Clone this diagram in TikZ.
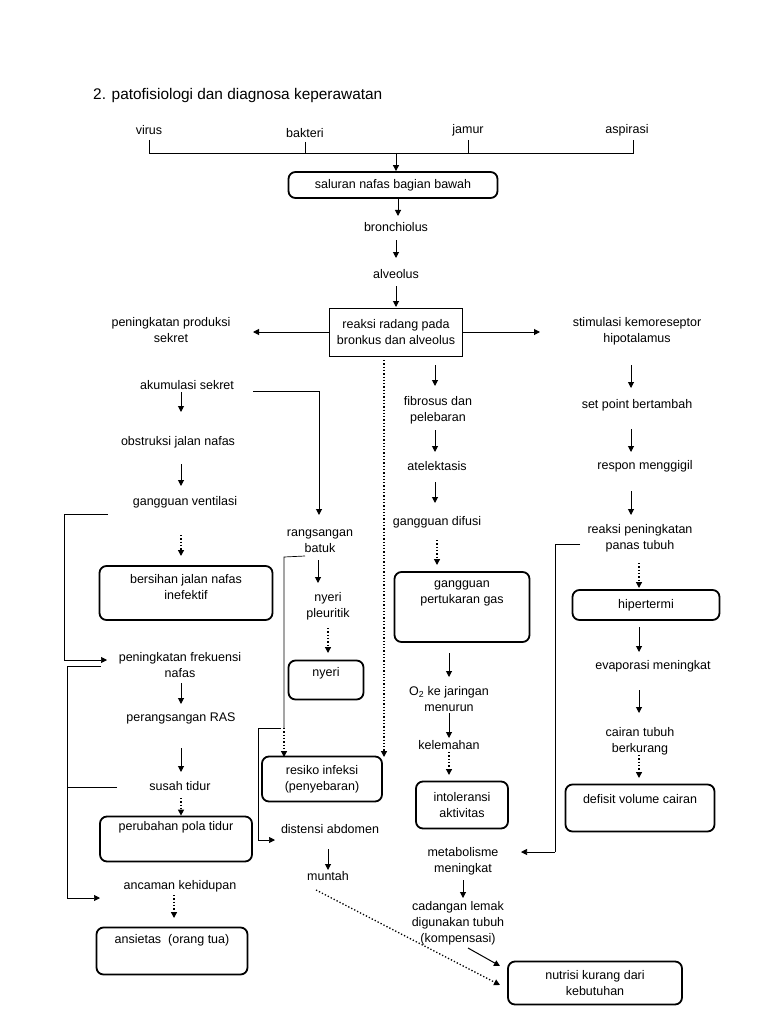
\documentclass[tikz,border=0pt]{standalone}
\usepackage{fontspec}
\setmainfont{Liberation Sans}
\usetikzlibrary{arrows.meta}
\begin{document}
\begin{tikzpicture}[x=1pt,y=-1pt,
  t/.style={font=\fontsize{12.5}{16}\selectfont,align=center,inner sep=1pt},
  bx/.style={draw,line width=1.8pt,rounded corners=7pt},
  a/.style={-{Triangle[length=6pt,width=6pt]},line width=1pt},
  d/.style={a,line width=1.3pt,dotted},
  l/.style={line width=0.7pt}]
\useasboundingbox (0,0) rectangle (768,1024);
\node[anchor=west,font=\fontsize{15.4}{18}\selectfont,inner sep=0pt] (title) at (93,96) {2. patofisiologi dan diagnosa keperawatan};
% top sources
\node[t] (virus) at (149,130) {virus};
\node[t] (bakteri) at (305,133) {bakteri};
\node[t] (jamur) at (468,130) {jamur};
\node[t] (aspirasi) at (627,130) {aspirasi};
\coordinate (j) at (396,153);
\draw[l] (149,140) -- (149,153) -- (633,153) -- (633,140);
\draw[l] (305,142) -- (305,153);
\draw[l] (468,140) -- (468,153);
\node[bx,minimum width=209pt,minimum height=26pt,t] (sal) at (393,185) {saluran nafas bagian bawah};
\draw[a] (j) -- (sal.north -| j);
\node[t] (bron) at (396,227) {bronchiolus};
\draw[a] (398,198) -- (398,216);
\node[t] (alv) at (396,274) {alveolus};
\draw[a] (396,286) -- (396,307);
\draw[a] (396,240) -- (396,258);
\node[draw,line width=0.8pt,minimum width=133pt,minimum height=48pt,t] (rr) at (396,332) {reaksi radang pada\\bronkus dan alveolus};
\node[t] (pps) at (171,330) {peningkatan produksi\\sekret};
\node[t] (stim) at (637,331) {stimulasi kemoreseptor\\hipotalamus};
\draw[a] (rr.west) -- (253,332);
\draw[a] (rr.east) -- (540,332);
% left column
\node[t] (aku) at (187,385) {akumulasi sekret};
\node[t] (obs) at (178,442) {obstruksi jalan nafas};
\node[t] (gv) at (185,502) {gangguan ventilasi};
\node[bx,minimum width=173pt,minimum height=54pt] (bers) at (186,593) {};
\node[t,anchor=north] at (186,573) {bersihan jalan nafas\\inefektif};
\draw[a] (181,392) -- (181,412);
\draw[a] (181,464) -- (181,486);
\draw[d] (181,535) -- (181,556);
\node[t] (pfn) at (180,665) {peningkatan frekuensi\\nafas};
\node[t] (ras) at (181,718) {perangsangan RAS};
\node[t] (st) at (180,786) {susah tidur};
\node[bx,minimum width=152pt,minimum height=45pt] (ppt) at (176,839) {};
\node[t,anchor=north] at (176,820) {perubahan pola tidur};
\node[t] (ak) at (180,886) {ancaman kehidupan};
\node[bx,minimum width=151pt,minimum height=47pt] (ans) at (172,951) {};
\node[t,anchor=north] at (172,933) {ansietas\ \ (orang tua)};
\draw[a] (181,683) -- (181,704);
\draw[a] (181,748) -- (181,772);
\draw[d] (181,798) -- (ppt.north -| 181,0);
\draw[d] (174,895) -- (174,918);
\draw[l] (108,514) -- (64,514) -- (64,660);
\draw[a,line width=0.7pt] (64,660) -- (107,660);
\draw[l] (101,666) -- (67,666);
\draw[l] (117,787) -- (67,787);
\draw[a,line width=0.7pt] (67,666) -- (67,898) -- (100,898);
% batuk column
\node[t] (rb) at (320,541) {rangsangan\\batuk};
\draw[l] (253,391) -- (319,391);
\draw[a] (319,391) -- (319,515);
\node[t] (np) at (328,606) {nyeri\\pleuritik};
\draw[a] (318,560) -- (318,583);
\draw[d] (328,628) -- (328,653);
\node[bx,minimum width=75pt,minimum height=39pt] (ny) at (326,680) {};
\node[t,anchor=north] at (326,666) {nyeri};
\node[bx,minimum width=120pt,minimum height=45pt,t] (ri) at (322,779) {resiko infeksi\\(penyebaran)};
\draw[l] (305,556) -- (284,557) -- (284,728);
\draw[d] (284,728) -- (284,757);
\draw[l] (281,728) -- (258,728);
\node[t] (da) at (330,829) {distensi abdomen};
\draw[a,line width=0.7pt] (258,728) -- (258,840) -- (275,840);
\node[t] (mu) at (328,876) {muntah};
\draw[a] (328,849) -- (328,870);
\draw[d] (384,360) -- (384,757);
% middle-right column
\node[t] (fib) at (438,410) {fibrosus dan\\pelebaran};
\node[t] (ate) at (437,466) {atelektasis};
\node[t] (gd) at (437,522) {gangguan difusi};
\draw[a] (435,365) -- (435,386);
\draw[a] (435,430) -- (435,452);
\draw[a] (435,482) -- (435,503);
\draw[d] (437,540) -- (437,565);
\node[bx,minimum width=135pt,minimum height=70pt] (gpg) at (462,607) {};
\node[t,anchor=north] at (462,580) {gangguan\\pertukaran gas};
\draw[a] (449,653) -- (449,677);
\node[t] (o2) at (449,699) {O\textsubscript{2} ke jaringan\\menurun};
\draw[a] (449,713) -- (449,738);
\node[t] (kel) at (449,745) {kelemahan};
\draw[d] (449,752) -- (449,775);
\node[bx,minimum width=92pt,minimum height=47pt,t] (int) at (462,805) {intoleransi\\aktivitas};
\node[t] (met) at (463,861) {metabolisme\\meningkat};
\draw[a] (463,880) -- (463,898);
\node[t] (cad) at (458,923) {cadangan lemak\\digunakan tubuh\\(kompensasi)};
\node[bx,minimum width=174pt,minimum height=43pt,t] (nut) at (595,983) {nutrisi kurang dari\\kebutuhan};
\draw[a] (468,948) -- (500,966);
\draw[d] (316,890) -- (500,985);
% right column
\node[t] (sp) at (637,405) {set point bertambah};
\node[t] (rm) at (645,466) {respon menggigil};
\node[t] (rp) at (640,538) {reaksi peningkatan\\panas tubuh};
\draw[a] (631,365) -- (631,388);
\draw[a] (631,429) -- (631,452);
\draw[a] (631,491) -- (631,515);
\draw[l] (580,544) -- (555,544) -- (555,852);
\draw[a,line width=0.7pt] (555,852) -- (521,852);
\draw[d] (639,563) -- (639,588);
\node[bx,minimum width=147pt,minimum height=30pt,t] (hip) at (646,605) {hipertermi};
\draw[a] (639,627) -- (639,652);
\node[t] (ev) at (653,666) {evaporasi meningkat};
\draw[a] (639,690) -- (639,713);
\node[t] (ct) at (640,741) {cairan tubuh\\berkurang};
\draw[d] (639,755) -- (639,778);
\node[bx,minimum width=149pt,minimum height=47pt] (def) at (640,808) {};
\node[t,anchor=north] at (640,793) {defisit volume cairan};
\end{tikzpicture}
\end{document}
